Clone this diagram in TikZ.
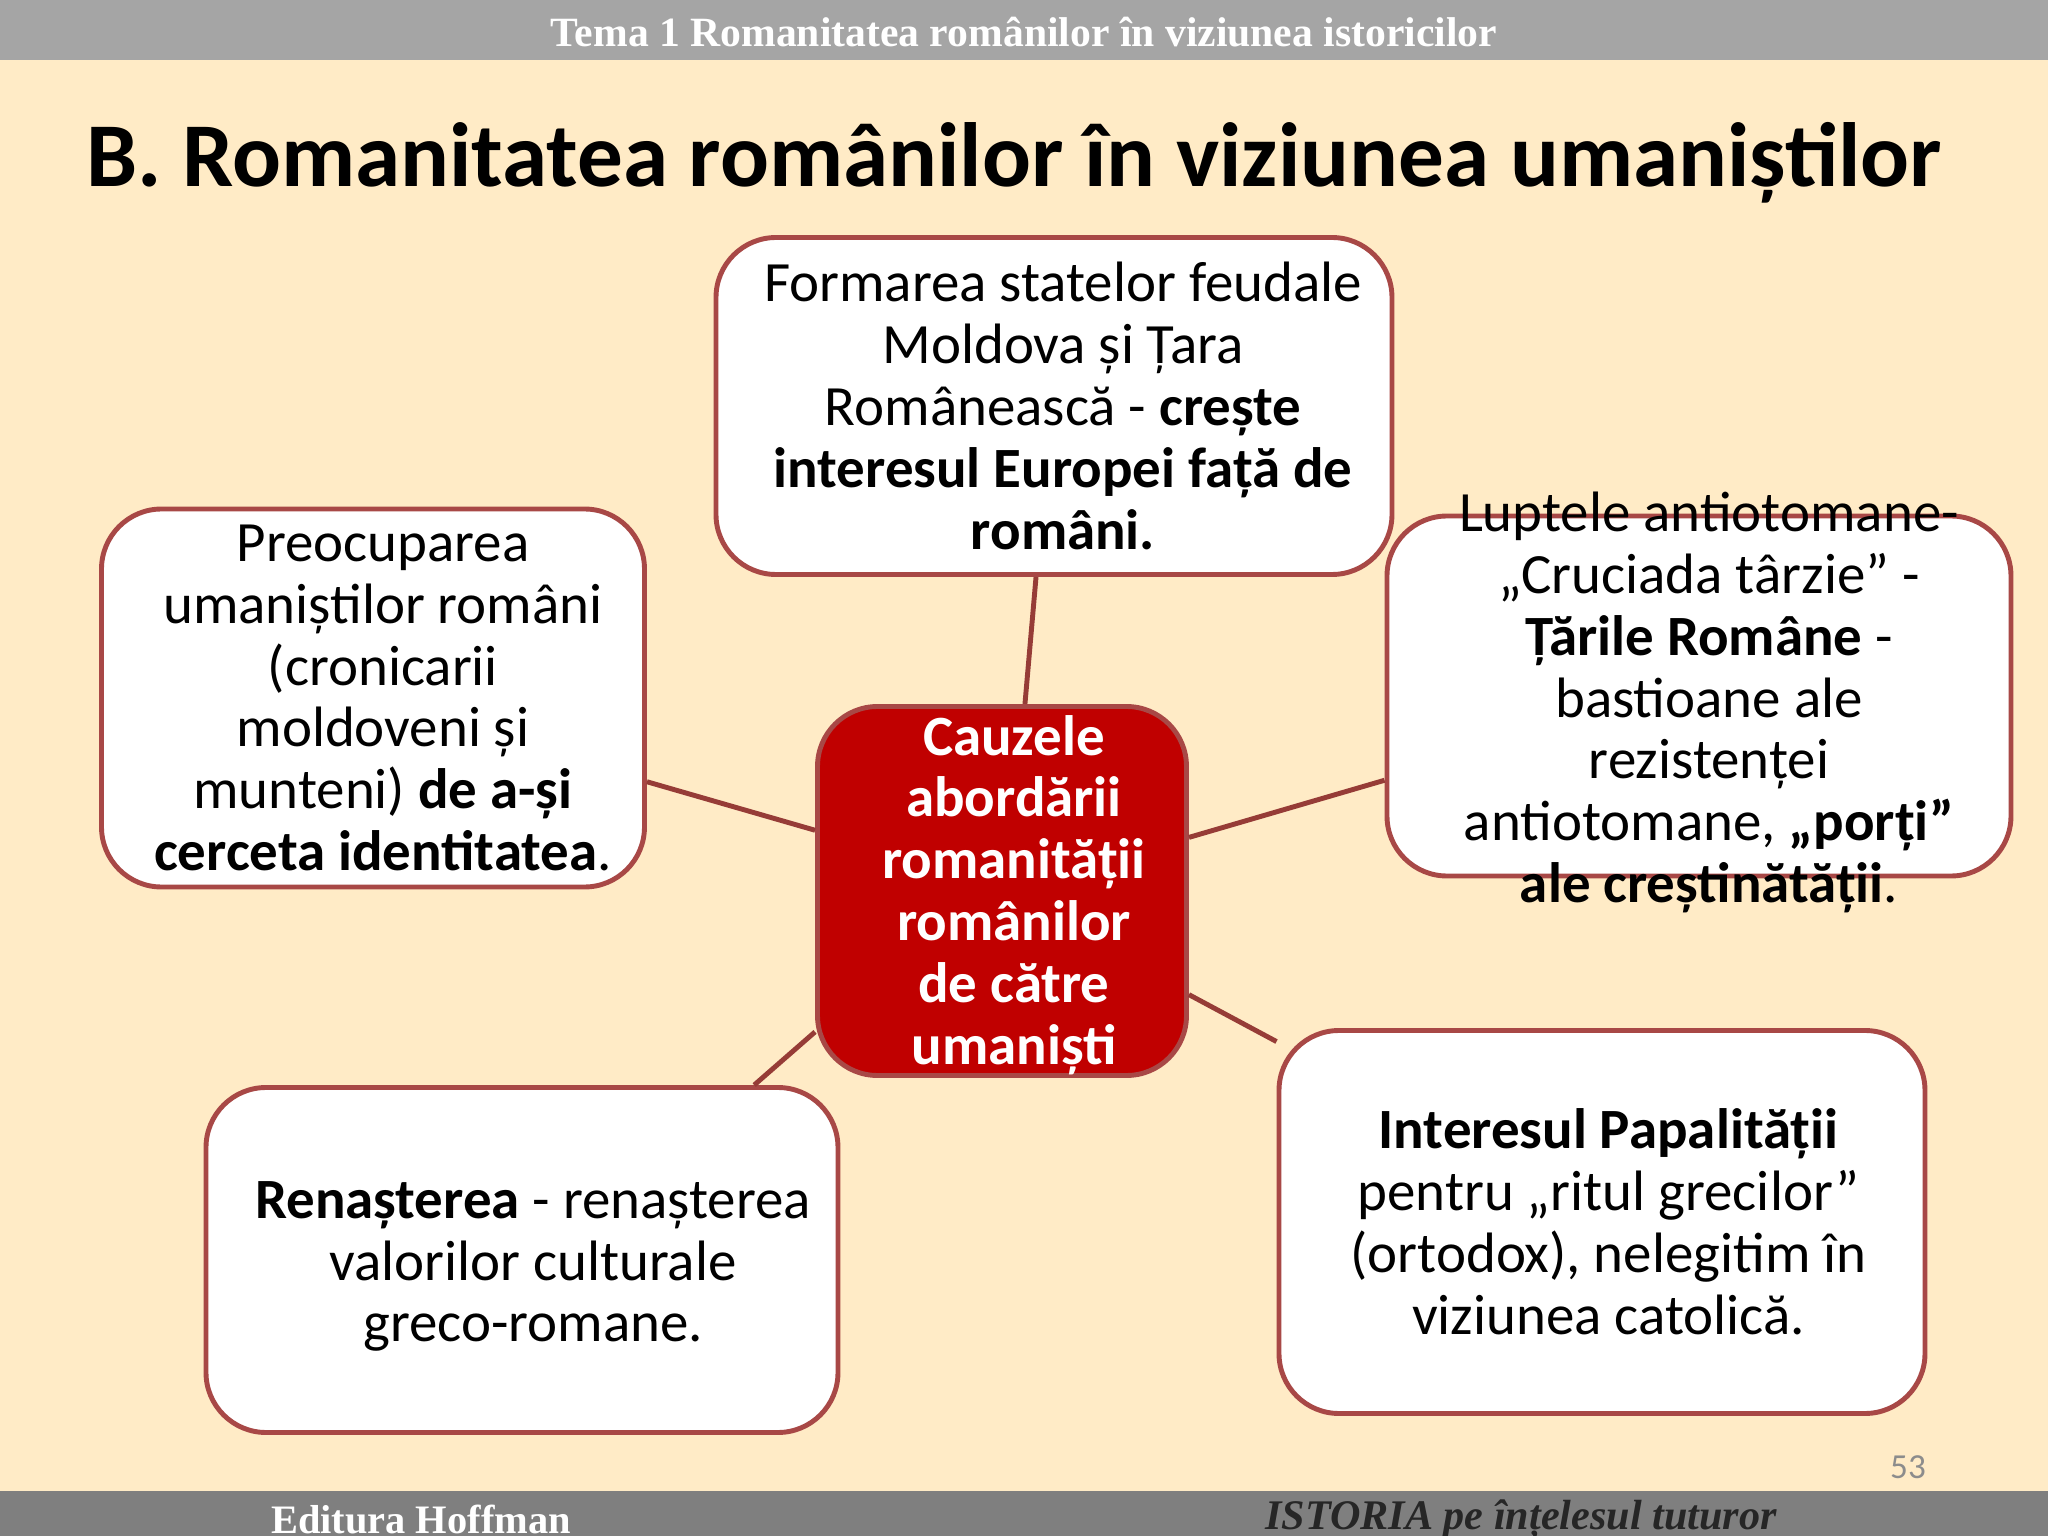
\documentclass[tikz,border=0pt]{standalone}
\usepackage{fontspec}
\setmainfont{Carlito}
\newfontfamily\headfont{Liberation Serif}
\usetikzlibrary{positioning}
\definecolor{slidecream}{RGB}{255,235,198}
\definecolor{headgray}{RGB}{165,165,165}
\definecolor{footgray}{RGB}{127,127,127}
\definecolor{boxline}{RGB}{168,72,70}
\definecolor{linkred}{RGB}{150,60,55}
\definecolor{causered}{RGB}{192,0,0}
\definecolor{pagegray}{RGB}{140,140,140}
\tikzset{
  causebox/.style={draw=boxline,fill=white,line width=1.4pt,rounded corners=0.6cm,inner sep=0pt},
  centrebox/.style={causebox,fill=causered},
  boxtext/.style={align=center,font=\fontsize{16.2}{17.6}\selectfont,inner sep=0pt},
  centretext/.style={boxtext,text=white,font=\fontsize{16.2}{17.6}\selectfont\bfseries},
  link/.style={draw=linkred,line width=1.4pt},
}

\begin{document}
\begin{tikzpicture}
  % slide background and bars
  \useasboundingbox (0,0) rectangle (20.48,-15.36);
  \fill[slidecream] (0,0) rectangle (20.48,-15.36);
  \fill[headgray] (0,0) rectangle (20.48,-0.60);
  \fill[footgray] (0,-14.91) rectangle (20.48,-15.36);
  \node[font=\headfont\fontsize{11.85}{13}\selectfont\bfseries,text=white] (tema) at (10.24,-0.32)
    {Tema 1 Romanitatea românilor în viziunea istoricilor};
  \node[font=\headfont\fontsize{11.5}{13}\selectfont\bfseries,text=white] (editura) at (4.21,-15.20) {Editura Hoffman};
  \node[font=\headfont\fontsize{12}{13}\selectfont\bfseries\itshape,text=black!85] (istoria) at (15.21,-15.20)
    {ISTORIA pe înțelesul tuturor};
  \node[font=\fontsize{10}{12}\selectfont,text=pagegray] (pagina) at (19.08,-14.67) {53};
  % title
  \node[font=\fontsize{25.95}{30}\selectfont\bfseries,anchor=base] (titlu) at (10.14,-1.87)
    {B. Romanitatea românilor în viziunea umaniștilor};
  % centre
  \node[centrebox,minimum width=3.69cm,minimum height=3.69cm] (cauze) at (10.02,-8.91) {};
  \node[centretext] (cauzetext) at ([xshift=0.12cm,yshift=-0.04cm]cauze.center)
    {Cauzele\\ abordării\\ romanității\\ românilor\\ de către\\ umaniști};
  % causes
  \node[causebox,minimum width=6.76cm,minimum height=3.37cm] (formare) at (10.54,-4.06) {};
  \node[boxtext] (formaretext) at ([xshift=0.09cm]formare.center)
    {Formarea statelor feudale\\ Moldova și Țara\\ Românească - \textbf{crește}\\ \textbf{interesul Europei față de}\\ \textbf{români.}};
  \node[causebox,minimum width=5.43cm,minimum height=3.78cm] (preocupare) at (3.73,-6.98) {};
  \node[boxtext] (preocuparetext) at ([xshift=0.10cm]preocupare.center)
    {Preocuparea\\ umaniștilor români\\ (cronicarii\\ moldoveni și\\ munteni) \textbf{de a-și}\\ \textbf{cerceta identitatea}.};
  \node[causebox,minimum width=6.24cm,minimum height=3.60cm] (lupte) at (16.99,-6.96) {};
  \node[boxtext] (luptetext) at ([xshift=0.10cm,yshift=-0.065cm]lupte.center)
    {Luptele antiotomane-\\ „Cruciada târzie” -\\ \textbf{Țările Române} -\\ bastioane ale\\ rezistenței\\ antiotomane, \textbf{„porți”}\\ \textbf{ale creștinătății}.};
  \node[causebox,minimum width=6.32cm,minimum height=3.45cm] (renastere) at (5.22,-12.60) {};
  \node[boxtext] (renasteretext) at ([xshift=0.11cm,yshift=-0.065cm]renastere.center)
    {\textbf{Renașterea} - renașterea\\ valorilor culturale\\ greco-romane.};
  \node[causebox,minimum width=6.46cm,minimum height=3.83cm] (papalitate) at (16.02,-12.22) {};
  \node[boxtext] (papalitatetext) at ([xshift=0.065cm]papalitate.center)
    {\textbf{Interesul Papalității}\\ pentru „ritul grecilor”\\ (ortodox), nelegitim în\\ viziunea catolică.};
  % links
  \draw[link] (cauze.83) -- (formare.264);
  \draw[link] (cauze.162.5) -- (preocupare.343);
  \draw[link] (cauze.16) -- (lupte.195.8);
  \draw[link] (cauze.217.8) -- (renastere.37.4);
  \draw[link] (cauze.331) -- (papalitate.151);
\end{tikzpicture}
\end{document}
